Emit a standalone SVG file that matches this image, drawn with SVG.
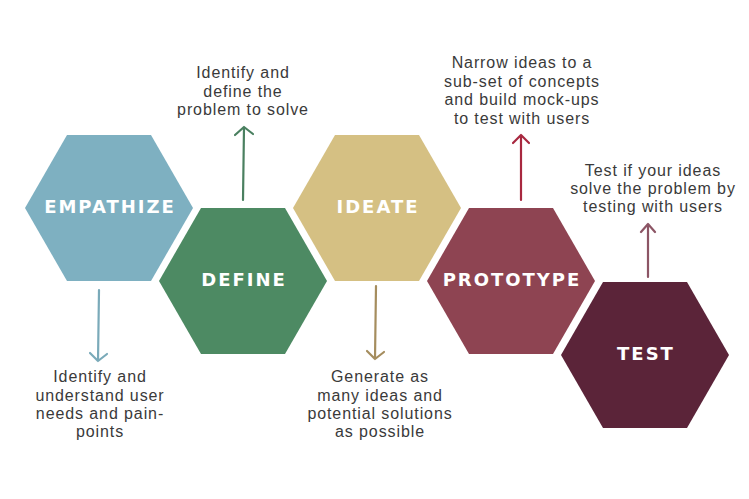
<svg xmlns="http://www.w3.org/2000/svg" width="749" height="499" viewBox="0 0 749 499">
<style>
.hex-label{font-family:"DejaVu Sans",sans-serif;font-weight:bold;font-size:18px;fill:#ffffff;letter-spacing:2px;text-anchor:middle}
.note{font-family:"Liberation Sans",Arial,sans-serif;font-size:16px;fill:#3a3a3a;text-anchor:middle;letter-spacing:0.9px}
.arrow{fill:none;stroke-width:2.2;stroke-linecap:round;stroke-linejoin:round}
</style>
<defs>
<polygon id="hex" points="-84,0 -42,-73 42,-73 84,0 42,73 -42,73"/>
</defs>
<rect width="749" height="499" fill="#ffffff"/>
<g id="empathize">
<use href="#hex" x="109" y="208" fill="#7eb0c1"/>
<text class="hex-label" x="110" y="213">EMPATHIZE</text>
</g>
<g id="define">
<use href="#hex" x="243" y="281" fill="#4d8a63"/>
<text class="hex-label" x="244" y="286">DEFINE</text>
</g>
<g id="ideate">
<use href="#hex" x="377" y="208" fill="#d5c083"/>
<text class="hex-label" x="378" y="213">IDEATE</text>
</g>
<g id="prototype">
<use href="#hex" x="511" y="281" fill="#8e4452"/>
<text class="hex-label" x="512" y="286">PROTOTYPE</text>
</g>
<g id="test">
<use href="#hex" x="645" y="355" fill="#5b2439"/>
<text class="hex-label" x="646" y="360">TEST</text>
</g>
<g id="connectors">
<path class="arrow" stroke="#7aaab9" d="M99,290 L98,361 M90,353 L98,361 L107,354"/>
<path class="arrow" stroke="#4a8060" d="M243,200 L244,127 M235,135 L244,127 L253,134"/>
<path class="arrow" stroke="#a58d5e" d="M376,286 L375,359 M367,351 L375,359 L384,352"/>
<path class="arrow" stroke="#a8283f" d="M521,200 L521,135 M513,143 L521,135 L529,143"/>
<path class="arrow" stroke="#8c5565" d="M648,277 L648,224 M641,232 L648,224 L655,232"/>
</g>
<g id="notes">
<text class="note" x="100" y="382">Identify and</text>
<text class="note" x="100" y="401">understand user</text>
<text class="note" x="100" y="419">needs and pain-</text>
<text class="note" x="100" y="437">points</text>
<text class="note" x="243" y="78">Identify and</text>
<text class="note" x="243" y="97">define the</text>
<text class="note" x="243" y="115">problem to solve</text>
<text class="note" x="380" y="382">Generate as</text>
<text class="note" x="380" y="401">many ideas and</text>
<text class="note" x="380" y="419">potential solutions</text>
<text class="note" x="380" y="437">as possible</text>
<text class="note" x="522" y="68">Narrow ideas to a</text>
<text class="note" x="522" y="87">sub-set of concepts</text>
<text class="note" x="522" y="105">and build mock-ups</text>
<text class="note" x="522" y="124">to test with users</text>
<text class="note" x="653" y="176">Test if your ideas</text>
<text class="note" x="653" y="194">solve the problem by</text>
<text class="note" x="653" y="212">testing with users</text>
</g>
</svg>
